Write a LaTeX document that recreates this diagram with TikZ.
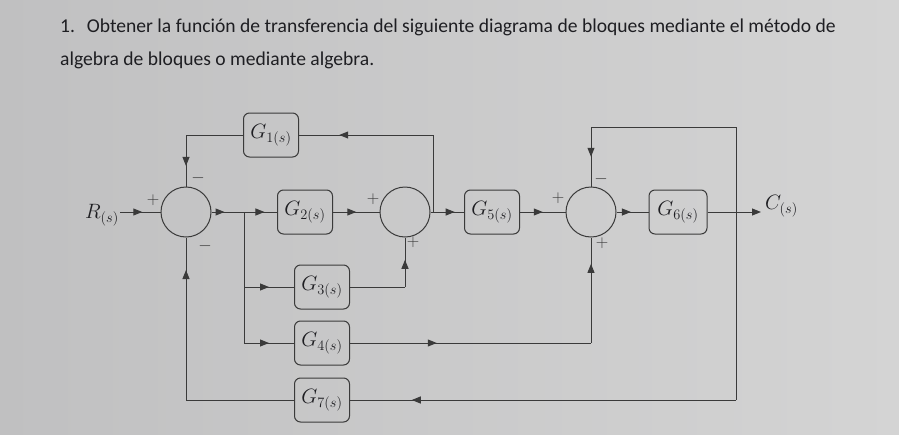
\documentclass[tikz,border=0pt]{standalone}
\usepackage{fontspec}
\setmainfont{Carlito}
\usetikzlibrary{arrows.meta,decorations.markings}
\definecolor{paper}{RGB}{212,212,212}
\definecolor{paperdark}{RGB}{192,192,193}
\definecolor{linec}{RGB}{58,58,58}
\definecolor{inkc}{RGB}{30,30,34}

\begin{document}
\begin{tikzpicture}[x=1pt,y=-1pt,
  marr/.style={postaction={decorate},decoration={markings,
    mark=at position #1 with {\arrow{Triangle[length=9pt,width=7pt]}}}}]
        \tikzstyle{block}=[draw=linec,line width=1pt,rounded corners=6pt,minimum width=55pt,minimum height=44pt,inner sep=0pt,text=inkc,font=\fontsize{21}{21}\selectfont]
        \tikzstyle{sum}=[circle,draw=linec,line width=1pt,minimum size=50pt,inner sep=0pt]
        \tikzstyle{edge}=[draw=linec,line width=1pt]
        \tikzstyle{sign}=[text=linec,inner sep=0pt,font=\fontsize{16}{16}\selectfont]
        \tikzstyle{lbl}=[text=inkc,inner sep=1pt,font=\fontsize{21}{21}\selectfont]

        \shade[left color=paperdark,right color=paper] (0,0) rectangle (899,434);
        \useasboundingbox (0,0) rectangle (899,434);

        % enunciado
        \node (title1) [anchor=base west,text=inkc,inner sep=0pt,font=\fontsize{19.6}{22}\selectfont] at (60,32)
          {1.\hspace{0.6em}Obtener la función de transferencia del siguiente diagrama de bloques mediante el método de};
        \node (title2) [anchor=base west,text=inkc,inner sep=0pt,font=\fontsize{19.6}{22}\selectfont] at (60,65)
          {algebra de bloques o mediante algebra.};

        % sumadores y bloques
        \node [sum] (s1) at (186,212) {};
        \node [sum] (s2) at (405,212) {};
        \node [sum] (s3) at (591,212) {};
        \node [block] (g1) at (271,135) {$G_{1(s)}$};
        \node [block] (g2) at (305,212) {$G_{2(s)}$};
        \node [block] (g5) at (492,212) {$G_{5(s)}$};
        \node [block,minimum width=58pt] (g6) at (678,212) {$G_{6(s)}$};
        \node [block] (g3) at (322,287) {$G_{3(s)}$};
        \node [block] (g4) at (322,343) {$G_{4(s)}$};
        \node [block] (g7) at (322,400) {$G_{7(s)}$};
        \node [lbl,anchor=east] (r) at (120,215) {$R_{(s)}$};
        \node [lbl,anchor=west] (c) at (764,206) {$C_{(s)}$};

        % signos
        \node [sign] (p11) at (153,200) {$+$};
        \node [sign] (m12) at (198,178) {$-$};
        \node [sign] (m13) at (205,246) {$-$};
        \node [sign] (p21) at (373,199) {$+$};
        \node [sign] (p22) at (413,242) {$+$};
        \node [sign] (p31) at (558,198) {$+$};
        \node [sign] (m32) at (601,179) {$-$};
        \node [sign] (p33) at (602,243) {$+$};

        % esquinas
        \coordinate (b1) at (244,212);
        \coordinate (b2) at (433,212);
        \coordinate (k1) at (433,135);
        \coordinate (k2) at (186,135);
        \coordinate (k3) at (244,287);
        \coordinate (k4) at (244,343);
        \coordinate (k5) at (405,287);
        \coordinate (k6) at (591,343);
        \coordinate (k7) at (591,127);
        \coordinate (k8) at (736,127);
        \coordinate (k9) at (736,400);
        \coordinate (k10) at (186,400);
        \coordinate (cend) at (761,212);

        % camino directo
        \path[edge,marr=0.55] (r.east |- s1.west) -- (s1);
        \path[edge,marr=0.4] (s1) -- (b1);
        \path[edge,marr=0.62] (b1) -- (g2);
        \path[edge,marr=0.5] (g2) -- (s2);
        \path[edge] (s2) -- (b2);
        \path[edge,marr=0.7] (b2) -- (g5);
        \path[edge,marr=0.5] (g5) -- (s3);
        \path[edge,marr=0.45] (s3) -- (g6);
        \path[edge,-{Triangle[length=9pt,width=7pt]}] (g6) -- (cend);

        % lazos y ramas
        \path[edge] (b2) -- (k1);
        \path[edge,marr=0.7] (k1) -- (g1);
        \path[edge] (g1) -- (k2);
        \path[edge,marr=0.6] (k2) -- (s1);
        \path[edge] (b1) -- (k4);
        \path[edge,marr=0.5] (k3) -- (g3);
        \path[edge,marr=0.5] (k4) -- (g4);
        \path[edge] (g3) -- (k5);
        \path[edge,marr=0.55] (k5) -- (s2);
        \path[edge,marr=0.36] (g4) -- (k6);
        \path[edge,marr=0.75] (k6) -- (s3);
        \path[edge,marr=0.5] (k7) -- (s3);
        \path[edge] (k7) -- (k8) -- (k9);
        \path[edge,marr=0.84] (k9) -- (g7);
        \path[edge] (g7) -- (k10);
        \path[edge,marr=0.8] (k10) -- (s1);
\end{tikzpicture}
\end{document}
